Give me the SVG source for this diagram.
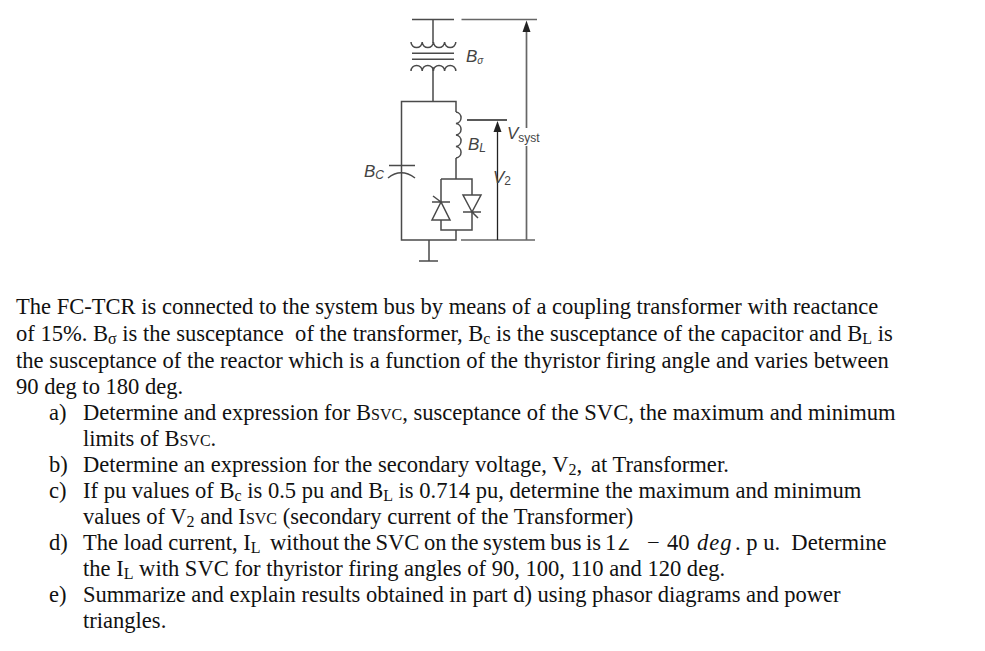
<svg xmlns="http://www.w3.org/2000/svg" width="985" height="651" viewBox="0 0 985 651">
<defs>
<style>
.w{fill:none;stroke:#4a4a4a;stroke-width:1.5}
.g{fill:none;stroke:#666;stroke-width:1.7}
.k{fill:none;stroke:#222;stroke-width:1.3}
.a{fill:#222;stroke:none}
.l{font-family:"Liberation Sans",Arial,sans-serif;font-style:italic;font-size:17px;fill:#444}
.s{font-style:normal;font-size:12px}
.t{font-family:"Liberation Serif","Times New Roman",serif;font-size:22.55px;fill:#111;white-space:pre}
.u{font-size:16px}
.m{font-style:italic;letter-spacing:1px}
</style>
</defs>
<rect width="985" height="651" fill="#fff"/>
<g id="connectors">
<path class="w" d="M412 19.500H454M433 19.500V43M433 67V101.500M401.500 240V101.500H456V112M456 158V179M401.500 101.500V165.500M401.500 174V240H456V230M429 240V261"/>
<path class="g" d="M461.500 19.500H537M461 240H535M526.500 31V128M526.500 146V240"/>
<path class="k" d="M497.500 131V240"/>
<path class="a" d="M526.500 20.500L530.500 32H522.500Z"/>
<path class="a" d="M497.500 121L501.500 132H493.500Z"/>
</g>
<g id="transformer">
<path class="w" d="M411 42a5.600 5.600 0 0 0 11.200 0a5.600 5.600 0 0 0 11.200 0a5.600 5.600 0 0 0 11.200 0a5.600 5.600 0 0 0 11.200 0"/>
<path class="w" d="M412 53.300H454M412 59.300H454"/>
<path class="w" d="M411 71a5.600 5.600 0 0 1 11.200 0a5.600 5.600 0 0 1 11.200 0a5.600 5.600 0 0 1 11.200 0a5.600 5.600 0 0 1 11.200 0"/>
</g>
<g id="reactor">
<path class="w" d="M456 112a5.800 5.800 0 0 1 0 11.500a5.800 5.800 0 0 1 0 11.500a5.800 5.800 0 0 1 0 11.500a5.800 5.800 0 0 1 0 11.500"/>
<path class="k" d="M467 120H507"/>
</g>
<g id="capacitor">
<path class="w" d="M389 165.500H415M388 178Q401 167.500 415 178"/>
</g>
<g id="thyristors">
<path class="w" d="M441 179H472V195M441 179V202M441 220V230H472V212"/>
<path class="w" d="M441 202L432 220H450ZM432 202H450M441 202L433 196M472 212L463 195H481ZM463 212H481M472 212L478 218"/>
</g>
<g id="ground">
<path class="w" d="M419 261H438"/>
</g>
<g id="labels">
<text class="l" x="466" y="62">B<tspan class="s" style="font-size:10px;font-style:italic" dy="2">σ</tspan></text>
<text class="l" x="468" y="150">B<tspan class="s" style="font-style:italic" dy="2">L</tspan></text>
<text class="l" x="507" y="139">V<tspan class="s" dy="3">syst</tspan></text>
<text class="l" x="493" y="183">V<tspan class="s" dy="2">2</tspan></text>
<text class="l" x="364" y="177">B<tspan class="s" style="font-style:italic" dy="2">C</tspan></text>
</g>
<g id="text" transform="translate(0 .5)">
<text class="t" x="16" y="313">The FC-TCR is connected to the system bus by means of a coupling transformer with reactance</text>
<text class="t" x="16" y="340">of 15%. B<tspan class="u" dy="3">σ</tspan><tspan dy="-3"> is the susceptance  of the transformer, B</tspan><tspan class="u" dy="3">c</tspan><tspan dy="-3"> is the susceptance of the capacitor and B</tspan><tspan class="u" dy="3">L</tspan><tspan dy="-3"> is</tspan></text>
<text class="t" x="16" y="367">the susceptance of the reactor which is a function of the thyristor firing angle and varies between</text>
<text class="t" x="16" y="393">90 deg to 180 deg.</text>
<text class="t" x="49" y="419">a)</text>
<text class="t" x="83" y="419">Determine and expression for B<tspan class="u">SVC</tspan>, susceptance of the SVC, the maximum and minimum</text>
<text class="t" x="83" y="445">limits of B<tspan class="u">SVC</tspan>.</text>
<text class="t" x="49" y="471">b)</text>
<text class="t" x="83" y="471">Determine an expression for the secondary voltage, V<tspan class="u" dy="3">2</tspan><tspan dy="-3">, </tspan><tspan x="591">at Transformer.</tspan></text>
<text class="t" x="49" y="497">c)</text>
<text class="t" x="83" y="497">If pu values of B<tspan class="u" dy="3">c</tspan><tspan dy="-3"> is 0.5 pu and B</tspan><tspan class="u" dy="3">L</tspan><tspan dy="-3"> is 0.714 pu, determine the maximum and minimum</tspan></text>
<text class="t" x="83" y="523">values of V<tspan class="u" dy="3">2</tspan><tspan dy="-3"> and I</tspan><tspan class="u">SVC</tspan> (secondary current of the Transformer)</text>
<text class="t" x="49" y="549">d)</text>
<text class="t" x="83" y="549">The load current, I<tspan class="u" dy="3">L</tspan><tspan dy="-3" x="270" style="word-spacing:-1.1px">without the SVC on the system bus is</tspan><tspan x="605">1</tspan><tspan x="617" style="font-size:15px">∠</tspan><tspan x="647">−</tspan><tspan x="667">40</tspan><tspan class="m" x="697">deg</tspan><tspan x="735">. p u.  Determine</tspan></text>
<text class="t" x="83" y="575">the I<tspan class="u" dy="3">L</tspan><tspan dy="-3"> with SVC for thyristor firing angles of 90, 100, 110 and 120 deg.</tspan></text>
<text class="t" x="49" y="601">e)</text>
<text class="t" x="83" y="601">Summarize and explain results obtained in part d) using phasor diagrams and power</text>
<text class="t" x="83" y="627">triangles.</text>
</g>
</svg>
